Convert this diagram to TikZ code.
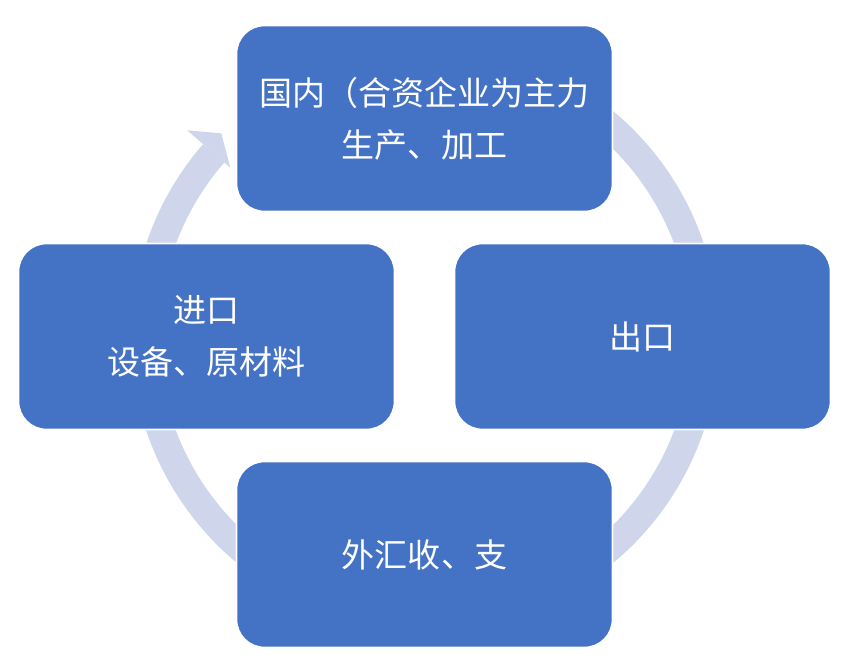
\documentclass[tikz,border=0pt]{standalone}
\usepackage{fontspec}
\newfontfamily\cjk{Noto Sans CJK SC}
\definecolor{boxblue}{HTML}{4472C4}
\definecolor{bandgray}{HTML}{CFD5EA}

\begin{document}
\begin{tikzpicture}[
  box/.style={draw=white, line width=1.2pt, fill=boxblue, rounded corners=0.7cm, align=center, text=white,
    minimum width=9.4cm, minimum height=4.65cm, font=\cjk\fontsize{23.5}{37}\selectfont},
  band/.style={bandgray, line width=0.7cm}
]
\useasboundingbox (0,0) rectangle (21.35,-16.475);
\coordinate (c) at (10.625,-8.425);

% circular arrow behind the boxes
\draw[band] ([shift={(90:7)}]c) arc[start angle=90, end angle=-221, radius=7];
\fill[bandgray, shift={(c)}] (139:6.45) -- (135:7.2) -- (139:7.875) -- cycle;

\node[box] (home) at (10.6125,-2.9625) {国内（合资企业为主力\\生产、加工};
\node[box] (import) at (5.1625,-8.4125) {进口\\设备、原材料};
\node[box] (export) at (16.0625,-8.4125) {出口};
\node[box] (forex) at (10.6125,-13.8625) {外汇收、支};
\end{tikzpicture}
\end{document}
